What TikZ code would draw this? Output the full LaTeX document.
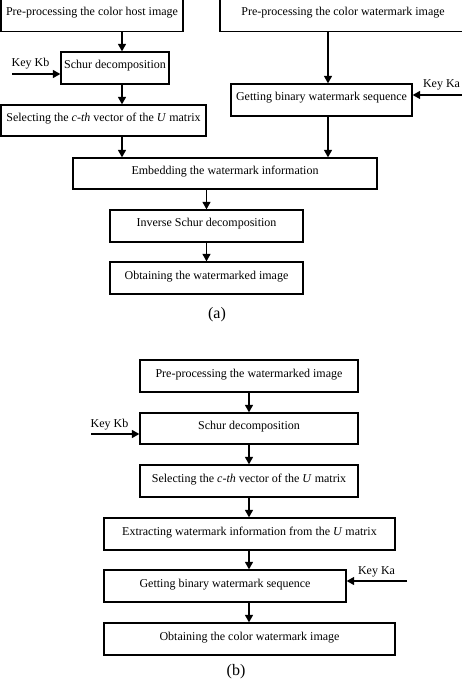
\documentclass[tikz,border=0pt]{standalone}
\usepackage{fontspec}
\setmainfont{Liberation Serif}
\usetikzlibrary{arrows.meta}
\begin{document}
\begin{tikzpicture}[x=1pt,y=-1pt,
    box/.style={draw, line width=1.3pt, minimum height=32pt, inner sep=0pt,
        text height=8.5pt, text depth=6.5pt, font=\fontsize{12}{14}\selectfont},
    keytext/.style={inner sep=0pt, font=\fontsize{12}{14}\selectfont},
    arr/.style={line width=1.3pt, -{Triangle[length=7.5pt,width=8pt]}}]
    \useasboundingbox (0,0) rectangle (462,684);

    % (a) embedding
    \node[box, minimum width=182pt, minimum height=34pt] (ahost) at (92,14.5) {Pre-processing the color host image};
    \node[box, minimum width=246pt, minimum height=34pt] (awm) at (343,14.5) {Pre-processing the color watermark image};
    \node[box, minimum width=108pt] (aschur) at (115,68) {Schur decomposition};
    \node[box, minimum width=205pt, minimum height=31pt] (asel) at (103.5,120.5) {Selecting the \textit{c-th} vector of the \textit{U} matrix};
    \node[box, minimum width=181pt] (aget) at (321.5,100) {Getting binary watermark sequence};
    \node[box, minimum width=304pt, minimum height=31pt] (aemb) at (225,173.5) {Embedding the watermark information};
    \node[box, minimum width=193pt] (ainv) at (206.5,226) {Inverse Schur decomposition};
    \node[box, minimum width=193pt] (aobt) at (206.5,278) {Obtaining the watermarked image};
    \node[font=\fontsize{16}{18}\selectfont] (alab) at (217,315) {(a)};

    \coordinate (acl) at (122,0);
    \coordinate (acr) at (328,0);
    \draw[arr] (ahost.south -| acl) -- (aschur.north -| acl);
    \draw[arr] (aschur.south -| acl) -- (asel.north -| acl);
    \draw[arr] (asel.south -| acl) -- (aemb.north -| acl);
    \draw[arr] (awm.south -| acr) -- (aget.north -| acr);
    \draw[arr] (aget.south -| acr) -- (aemb.north -| acr);
    \draw[arr] (aemb.south -| ainv.north) -- (ainv.north);
    \draw[arr] (ainv.south) -- (aobt.north);

    \node[keytext] (akb) at (30.5,64) {Key Kb};
    \coordinate (akbs) at (12,74);
    \draw[arr] (akbs) -- (akbs -| aschur.west);
    \node[keytext] (aka) at (441.5,85) {Key Ka};
    \coordinate (akas) at (464,95);
    \draw[arr] (akas) -- (akas -| aget.east);

    % (b) extraction
    \node[box, minimum width=218pt] (bpre) at (249,376) {Pre-processing the watermarked image};
    \node[box, minimum width=218pt, minimum height=31pt] (bschur) at (249,428.5) {Schur decomposition};
    \node[box, minimum width=218pt] (bsel) at (249,481) {Selecting the \textit{c-th} vector of the \textit{U} matrix};
    \node[box, minimum width=291pt] (bext) at (249.5,534) {Extracting watermark information from the \textit{U} matrix};
    \node[box, minimum width=242pt] (bget) at (225,586) {Getting binary watermark sequence};
    \node[box, minimum width=291pt] (bobt) at (249.5,639) {Obtaining the color watermark image};
    \node[font=\fontsize{16}{18}\selectfont] (blab) at (236,672) {(b)};

    \coordinate (bc) at (249,0);
    \draw[arr] (bpre.south -| bc) -- (bschur.north -| bc);
    \draw[arr] (bschur.south -| bc) -- (bsel.north -| bc);
    \draw[arr] (bsel.south -| bc) -- (bext.north -| bc);
    \draw[arr] (bext.south -| bc) -- (bget.north -| bc);
    \draw[arr] (bget.south -| bc) -- (bobt.north -| bc);

    \node[keytext] (bkb) at (109.5,425) {Key Kb};
    \coordinate (bkbs) at (91,434);
    \draw[arr] (bkbs) -- (bkbs -| bschur.west);
    \node[keytext] (bka) at (376.5,572) {Key Ka};
    \coordinate (bkas) at (407,581);
    \draw[arr] (bkas) -- (bkas -| bget.east);
\end{tikzpicture}
\end{document}
